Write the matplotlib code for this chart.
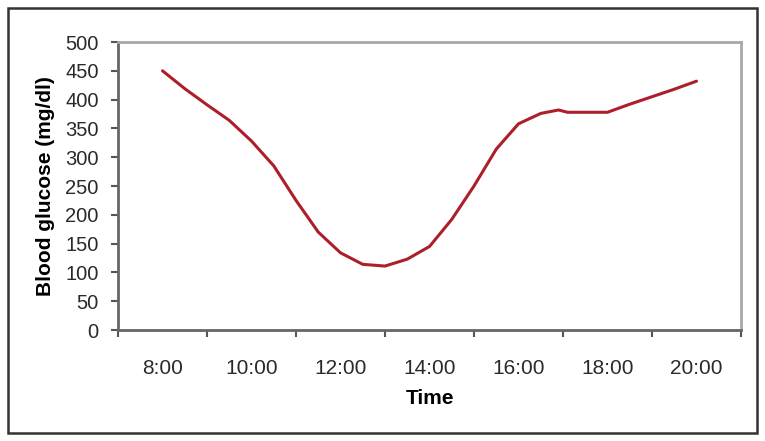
import matplotlib
matplotlib.use("Agg")
import matplotlib.pyplot as plt
from matplotlib.patches import Rectangle
import numpy as np

# Data (hours of day, blood glucose mg/dl)
hours = [8.0, 8.5, 9.0, 9.5, 10.0, 10.5, 11.0, 11.5, 12.0, 12.5, 13.0, 13.5,
         14.0, 14.5, 15.0, 15.5, 16.0, 16.5, 16.9, 17.1, 17.5, 18.0, 18.5,
         19.0, 19.5, 20.0]
glucose = [450, 419, 391, 364, 328, 285, 225, 170, 134, 114, 111, 123,
           145, 192, 250, 314, 358, 376, 382, 378, 378, 378, 392,
           405, 418, 432]

tick_hours = [8, 10, 12, 14, 16, 18, 20]
tick_labels = ["8:00", "10:00", "12:00", "14:00", "16:00", "18:00", "20:00"]
y_ticks = list(range(0, 501, 50))

plt.rcParams['font.family'] = ['Liberation Sans', 'DejaVu Sans']

fig = plt.figure(figsize=(7.65, 4.41), dpi=100)
W, H = 765, 441
ax = fig.add_axes([118 / W, 1 - 330 / H, (741 - 118) / W, (330 - 42) / H])

ax.plot(hours, glucose, color='#ac1f2a', linewidth=2.2,
        solid_joinstyle='round', solid_capstyle='round')

ax.set_xlim(7, 21)
ax.set_ylim(0, 500)
ax.set_yticks(y_ticks)
ax.set_yticklabels([str(v) for v in y_ticks])
ax.set_xticks(tick_hours)
ax.set_xticklabels(tick_labels)
ax.set_xticks(np.arange(7, 21.5, 2), minor=True)
ax.tick_params(axis='x', which='major', length=0, pad=21, labelsize=15, labelcolor='#2a2a2a')
ax.tick_params(axis='x', which='minor', length=5, width=1.5, color='#555555', direction='out')
ax.tick_params(axis='y', which='major', length=5, width=1.5, color='#555555', direction='out',
               pad=9, labelsize=14.5, labelcolor='#2a2a2a')

for s in ['left', 'bottom']:
    ax.spines[s].set_color('#666666')
    ax.spines[s].set_linewidth(2)
for s in ['top', 'right']:
    ax.spines[s].set_color('#a8a8a8')
    ax.spines[s].set_linewidth(2)

ax.set_xlabel('Time', fontsize=15, fontweight='bold', labelpad=8)
ax.set_ylabel('Blood glucose (mg/dl)', fontsize=15, fontweight='bold', labelpad=7)

# Outer chart border
fig.patches.append(Rectangle((8 / W, 8 / H), (757 - 8) / W, (433 - 8) / H,
                             transform=fig.transFigure, fill=False,
                             edgecolor='#333333', linewidth=1.8))

fig.savefig('out.png', dpi=100)
